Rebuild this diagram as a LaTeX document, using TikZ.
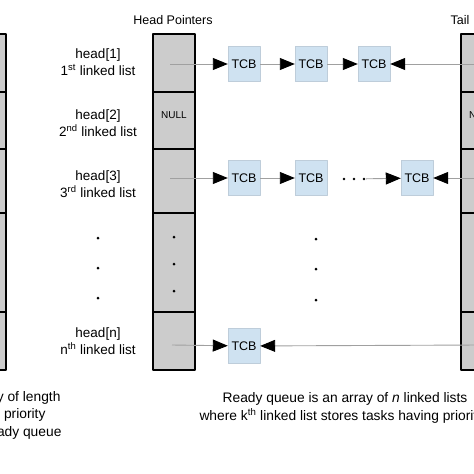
\documentclass[tikz,border=0pt]{standalone}
\usepackage{fontspec}
\setmainfont{Liberation Sans}
\usetikzlibrary{arrows.meta}
\definecolor{cellgray}{RGB}{204,204,204}
\definecolor{tcbblue}{RGB}{207,226,241}
\definecolor{tcbedge}{RGB}{190,205,218}
\definecolor{linegray}{RGB}{160,160,160}

\begin{document}
\begin{tikzpicture}[x=1pt,y=-1pt,line join=round,
    cell/.style={draw=black,line width=2.6pt,fill=cellgray,inner sep=0pt,minimum width=42pt},
    tcb/.style={draw=tcbedge,fill=tcbblue,inner sep=0pt,minimum width=32pt,minimum height=35pt,
      font=\fontsize{12.5}{14}\selectfont},
    lbl/.style={align=center,font=\fontsize{13.5}{17}\selectfont},
    ptr/.style={draw=linegray,line width=0.9pt,-{Triangle[length=15pt,width=12pt,color=black]}}]
    \useasboundingbox (0,0) rectangle (474,474);
    \clip (0,0) rectangle (474,474);
    % priority array, head and tail columns
    \foreach \n/\yt/\yb in {1/34/92,2/92/149,3/149/213,4/213/312,5/312/370}{
        \node[cell,minimum height={\yb-\yt}] (a\n) at (-15,{(\yt+\yb)/2}) {};
        \node[cell,minimum height={\yb-\yt}] (h\n) at (174,{(\yt+\yb)/2}) {};
        \node[cell,minimum height={\yb-\yt}] (t\n) at (482,{(\yt+\yb)/2}) {};
    }
    \node[font=\fontsize{12.5}{14}\selectfont] (hp) at (173,20) {Head Pointers};
    \node[font=\fontsize{12.5}{14}\selectfont] (tp) at (460,20) {Tail};
    \node[font=\fontsize{10}{12}\selectfont] (n2) at (h2.center |- 0,115) {NULL};
    \node[font=\fontsize{10}{12}\selectfont] (m2) at (t2.center |- 0,115) {NULL};
    \foreach \y in {237,264,291} \fill (174,\y) circle (1.5pt);
    % row labels
    \node[lbl] (l1) at (98,62) {head[1]\\1\textsuperscript{st} linked list};
    \node[lbl] (l2) at (98,123) {head[2]\\2\textsuperscript{nd} linked list};
    \node[lbl] (l3) at (98,184) {head[3]\\3\textsuperscript{rd} linked list};
    \node[lbl] (ln) at (98,341) {head[n]\\n\textsuperscript{th} linked list};
    \foreach \y in {238,268,298} \fill (98,\y) circle (1.5pt);
    \foreach \y in {239,269,300} \fill (316,\y) circle (1.5pt);
    % linked lists
    \node[tcb] (b11) at (244,64) {TCB};
    \node[tcb] (b12) at (311,64) {TCB};
    \node[tcb] (b13) at (374,64) {TCB};
    \node[tcb] (b31) at (244,178) {TCB};
    \node[tcb] (b32) at (311,178) {TCB};
    \node[inner sep=0pt,minimum width=24pt,minimum height=6pt] (d3) at (354,179) {};
    \foreach \dx in {-10,0,10} \fill ([xshift=\dx pt]d3.center) circle (1.3pt);
    \node[tcb] (b33) at (417,178) {TCB};
    \node[tcb] (bn1) at (244,346) {TCB};
    \coordinate (s1) at (170,64);
    \coordinate (s3) at (170,178);
    \coordinate (sn) at (172,345);
    \coordinate (e1) at (480,64);
    \coordinate (e3) at (480,178);
    \coordinate (en) at (480,345);
    \draw[ptr] (s1) -- (b11);
    \draw[ptr] (b11) -- (b12);
    \draw[ptr] (b12) -- (b13);
    \draw[ptr] (e1) -- (b13);
    \draw[ptr] (s3) -- (b31);
    \draw[ptr] (b31) -- (b32);
    \draw[ptr] (d3) -- (b33);
    \draw[ptr] (e3) -- (b33);
    \draw[ptr] (sn) -- (bn1);
    \draw[ptr] (en) -- (bn1);
    % captions
    \node[anchor=east,font=\fontsize{13.8}{17}\selectfont] (c1) at (64,398) {y of length};
    \node[anchor=east,font=\fontsize{13.8}{17}\selectfont] (c2) at (49,415) {n priority};
    \node[anchor=east,font=\fontsize{13.8}{17}\selectfont] (c3) at (65,433) {ady queue};
    \node[font=\fontsize{13.8}{17}\selectfont] (r1) at (345,399) {Ready queue is an array of \textit{n} linked lists};
    \node[anchor=west,font=\fontsize{13.8}{17}\selectfont] (r2) at (196,416) {where k\textsuperscript{th} linked list stores tasks having priority};
\end{tikzpicture}
\end{document}
